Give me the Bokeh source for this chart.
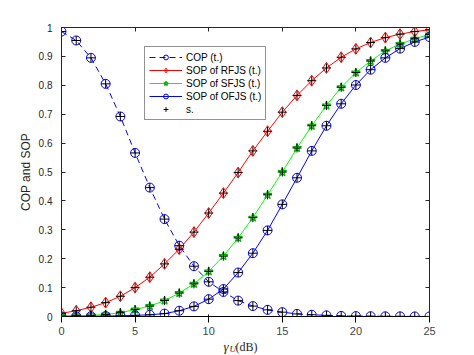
from bokeh.plotting import figure
from bokeh.models import (Range1d, LinearAxis, FixedTicker, CustomJSTickFormatter,
                          Legend, LegendItem, Label, ColumnDataSource)
from bokeh.embed import file_html
from bokeh.resources import INLINE

# ---- data ----
gamma_db = list(range(0, 26))
cop = [0.986, 0.955, 0.895, 0.805, 0.692, 0.566, 0.446, 0.337, 0.245, 0.174,
       0.120, 0.085, 0.055, 0.036, 0.023, 0.015, 0.009, 0.006, 0.004, 0.002,
       0.0015, 0.001, 0.0007, 0.0005, 0.0003, 0.0002]
sop_rfjs = [0.011, 0.020, 0.032, 0.048, 0.070, 0.100, 0.136, 0.182, 0.233, 0.292,
            0.358, 0.427, 0.498, 0.573, 0.641, 0.707, 0.765, 0.816, 0.860, 0.897,
            0.926, 0.948, 0.965, 0.977, 0.986, 0.992]
sop_sfjs = [0.002, 0.003, 0.004, 0.007, 0.013, 0.024, 0.036, 0.055, 0.081, 0.113,
            0.156, 0.209, 0.272, 0.342, 0.421, 0.500, 0.583, 0.660, 0.730, 0.793,
            0.844, 0.884, 0.919, 0.943, 0.961, 0.976]
sop_ofjs = [0.0002, 0.0004, 0.0008, 0.0015, 0.0025, 0.004, 0.006, 0.010, 0.020, 0.035,
            0.060, 0.095, 0.152, 0.219, 0.298, 0.388, 0.480, 0.573, 0.660, 0.736,
            0.801, 0.854, 0.895, 0.927, 0.950, 0.967]
x_ticks = [0, 5, 10, 15, 20, 25]
y_ticks = [0, 0.1, 0.2, 0.3, 0.4, 0.5, 0.6, 0.7, 0.8, 0.9, 1]
legend_labels = ["COP (t.)", "SOP of RFJS (t.)", "SOP of SFJS (t.)", "SOP of OFJS (t.)", "s."]
y_label = "COP and SOP"
x_label_parts = ["γ", "U", "(dB)"]

AX = "#262626"
FONT = "Liberation Sans"

p = figure(width=474, height=355, output_backend="svg", toolbar_location=None,
           x_range=Range1d(0, 25), y_range=Range1d(0, 1),
           min_border_left=61, min_border_right=45, min_border_top=27, min_border_bottom=39,
           background_fill_color="white", border_fill_color="white")
p.grid.visible = False
p.outline_line_color = AX
p.outline_line_width = 1

p.xaxis.ticker = FixedTicker(ticks=x_ticks)
p.yaxis.ticker = FixedTicker(ticks=y_ticks)
fmt = CustomJSTickFormatter(code="return String(Number(tick.toFixed(2)));")
p.xaxis.formatter = fmt
p.yaxis.formatter = fmt
p.yaxis.axis_label = y_label
p.yaxis.axis_label_text_font = FONT
p.yaxis.axis_label_text_font_size = "12px"
p.yaxis.axis_label_text_font_style = "normal"
p.yaxis.axis_label_text_color = AX
p.yaxis.axis_label_standoff = 3
p.yaxis.major_label_standoff = 9
p.xaxis.major_label_standoff = 4

top = LinearAxis(ticker=FixedTicker(ticks=x_ticks),
                 formatter=CustomJSTickFormatter(code="return '';"))
right = LinearAxis(ticker=FixedTicker(ticks=y_ticks),
                   formatter=CustomJSTickFormatter(code="return '';"))
p.add_layout(top, "above")
p.add_layout(right, "right")

for ax in [p.xaxis[0], p.yaxis[0], top, right]:
    ax.axis_line_color = AX
    ax.major_tick_line_color = AX
    ax.major_tick_in = 4
    ax.major_tick_out = 0
    ax.minor_tick_line_color = None
    ax.major_label_text_font = FONT
    ax.major_label_text_font_size = "10px"
    ax.major_label_text_color = AX
top.major_label_standoff = 0
right.major_label_standoff = 0

# ---- theoretical curves ----
cop_line = p.line(gamma_db, cop, line_color="#0000ff", line_width=1, line_dash="6 4")
cop_mk = p.scatter(gamma_db, cop, marker="circle", size=9, line_color="#0000ff",
                   fill_color=None, line_width=1)
rf_line = p.line(gamma_db, sop_rfjs, line_color="#ff0000", line_width=1)
rf_mk = p.scatter(gamma_db, sop_rfjs, marker="diamond", size=11, line_color="#ff0000",
                  fill_color=None, line_width=1)
sf_line = p.line(gamma_db, sop_sfjs, line_color="#00ff00", line_width=1)
sf_mk = p.scatter(gamma_db, sop_sfjs, marker="star", size=9, line_color="#00b000",
                  fill_color=None, line_width=1.2)
of_line = p.line(gamma_db, sop_ofjs, line_color="#0000ff", line_width=1)
of_mk = p.scatter(gamma_db, sop_ofjs, marker="circle", size=9, line_color="#0000ff",
                  fill_color=None, line_width=1)

# ---- simulation points ----
sim_src = ColumnDataSource(dict(x=gamma_db * 4, y=cop + sop_rfjs + sop_sfjs + sop_ofjs))
sim = p.scatter("x", "y", source=sim_src, marker="cross", size=9, line_color="black",
                line_width=1)

legend = Legend(items=[
    LegendItem(label=legend_labels[0], renderers=[cop_line, cop_mk]),
    LegendItem(label=legend_labels[1], renderers=[rf_line, rf_mk]),
    LegendItem(label=legend_labels[2], renderers=[sf_line, sf_mk]),
    LegendItem(label=legend_labels[3], renderers=[of_line, of_mk]),
    LegendItem(label=legend_labels[4], renderers=[sim]),
], location=(83, 196))
legend.border_line_color = AX
legend.border_line_width = 1
legend.background_fill_color = "white"
legend.background_fill_alpha = 1
legend.label_text_font = FONT
legend.label_text_font_size = "10px"
legend.label_text_color = "black"
legend.glyph_width = 33
legend.glyph_height = 12
legend.label_height = 12
legend.spacing = 1
legend.padding = 4
legend.margin = 0
legend.label_standoff = 4
p.add_layout(legend, "center")

# ---- x axis label: gamma_U (dB) (side-panel labels, positioned in canvas px, so not clipped) ----
SERIF = "Liberation Serif"
p.add_layout(Label(x=223, y=346, x_units="canvas", y_units="canvas", text=x_label_parts[0],
                   text_font=SERIF, text_font_style="italic", text_font_size="13px",
                   text_color=AX, text_baseline="alphabetic"), "right")
p.add_layout(Label(x=229, y=348, x_units="canvas", y_units="canvas", text=x_label_parts[1],
                   text_font=SERIF, text_font_style="italic", text_font_size="9px",
                   text_color=AX, text_baseline="alphabetic"), "right")
p.add_layout(Label(x=235, y=346, x_units="canvas", y_units="canvas", text=x_label_parts[2],
                   text_font=SERIF, text_font_size="12px",
                   text_color=AX, text_baseline="alphabetic"), "right")

open("out.html", "w").write(file_html(p, INLINE))
